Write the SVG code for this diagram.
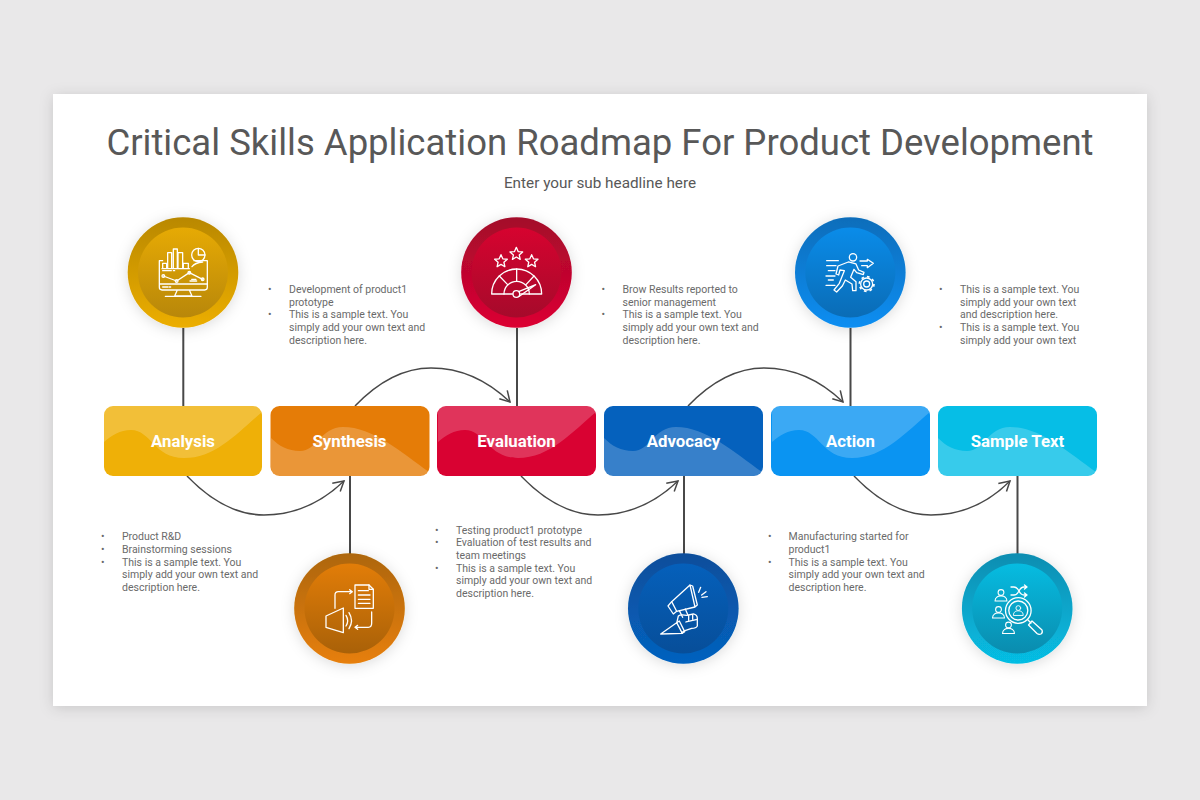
<svg xmlns="http://www.w3.org/2000/svg" width="1200" height="800" viewBox="0 0 1200 800">
<style>
text{font-family:Roboto,"Liberation Sans",sans-serif}
.title{font-size:36.500px;fill:#585858;text-anchor:middle}
.sub{font-size:15.300px;fill:#585858;text-anchor:middle}
.lab{font-size:16.800px;font-weight:700;fill:#fff;text-anchor:middle}
.body{font-size:10.500px;fill:#6a6a6a}
.v{stroke:#484848;stroke-width:2;fill:none}
.c{stroke:#484848;stroke-width:1.5;fill:none;marker-end:url(#arr)}
.ic{fill:none;stroke:#fff;stroke-width:1.3;stroke-linecap:round;stroke-linejoin:round}
.ic3{fill:none;stroke:#fff;stroke-width:3.900;stroke-linecap:round;stroke-linejoin:round}
.w{fill:#fff;fill-opacity:.2}
</style>
<defs>
<filter id="cs" x="-30%" y="-30%" width="160%" height="160%"><feDropShadow dx="0" dy="2" stdDeviation="7" flood-color="#000" flood-opacity=".14"/></filter>
<filter id="ps" x="-5%" y="-5%" width="110%" height="110%"><feDropShadow dx="0" dy="2" stdDeviation="7" flood-color="#000" flood-opacity=".14"/></filter>
<marker id="arr" markerUnits="userSpaceOnUse" markerWidth="18" markerHeight="18" refX="13" refY="8" orient="auto"><path d="M3 1.500L13 8L3 13" fill="none" stroke="#484848" stroke-width="1.500"/></marker>
<linearGradient id="y1" x1="0" y1="0" x2="0" y2="1"><stop offset="0" stop-color="#b98806"/><stop offset="1" stop-color="#ecae05"/></linearGradient>
<linearGradient id="y2" x1="0" y1="0" x2="0" y2="1"><stop offset="0" stop-color="#e6aa04"/><stop offset="1" stop-color="#b8870a"/></linearGradient>
<linearGradient id="r1" x1="0" y1="0" x2="0" y2="1"><stop offset="0" stop-color="#a30a2b"/><stop offset="1" stop-color="#dc0232"/></linearGradient>
<linearGradient id="r2" x1="0" y1="0" x2="0" y2="1"><stop offset="0" stop-color="#d6032f"/><stop offset="1" stop-color="#a60a2b"/></linearGradient>
<linearGradient id="o1" x1="0" y1="0" x2="0" y2="1"><stop offset="0" stop-color="#ad6608"/><stop offset="1" stop-color="#e77f08"/></linearGradient>
<linearGradient id="o2" x1="0" y1="0" x2="0" y2="1"><stop offset="0" stop-color="#e27d08"/><stop offset="1" stop-color="#a96108"/></linearGradient>
<linearGradient id="n1" x1="0" y1="0" x2="0" y2="1"><stop offset="0" stop-color="#0a4e9b"/><stop offset="1" stop-color="#0562bf"/></linearGradient>
<linearGradient id="n2" x1="0" y1="0" x2="0" y2="1"><stop offset="0" stop-color="#0560bb"/><stop offset="1" stop-color="#074e99"/></linearGradient>
<linearGradient id="b1" x1="0" y1="0" x2="0" y2="1"><stop offset="0" stop-color="#0a6dba"/><stop offset="1" stop-color="#0a8ef2"/></linearGradient>
<linearGradient id="b2" x1="0" y1="0" x2="0" y2="1"><stop offset="0" stop-color="#0a8ce9"/><stop offset="1" stop-color="#0a6cb6"/></linearGradient>
<linearGradient id="t1" x1="0" y1="0" x2="0" y2="1"><stop offset="0" stop-color="#0a8db1"/><stop offset="1" stop-color="#06bee4"/></linearGradient>
<linearGradient id="t2" x1="0" y1="0" x2="0" y2="1"><stop offset="0" stop-color="#06bce1"/><stop offset="1" stop-color="#0a8cae"/></linearGradient>
<path id="wa" class="w" d="M0 36C8 29 16 24 27 24C47 24 50 52 80 52C112 52 134 26 158 6V8Q158 0 150 0H8Q0 0 0 8Z"/>
<path id="wb" class="w" d="M0 32C8 40 17 45 29 45C46 45 50 21 72 21C102 21 130 46 158 66V62Q158 70 150 70H8Q0 70 0 62Z"/>
<polygon id="star" points="0,-20 5.400,-7.400 19,-6.200 8.700,2.800 11.700,16.200 0,9.100 -11.700,16.200 -8.700,2.800 -19,-6.200 -5.400,-7.400"/>
<g id="pers"><circle cx="0" cy="-3.500" r="3.400"/><path d="M-7 6.500C-7 1.500-3 .5 0 .5C3 .5 7 1.500 7 6.500Z"/></g>
</defs>
<rect width="1200" height="800" fill="#e9e8e9"/>
<rect id="card" x="53" y="94" width="1094" height="612" fill="#fff" filter="url(#ps)"/>
<text class="title" x="600" y="155">Critical Skills Application Roadmap For Product Development</text>
<text class="sub" x="600" y="188">Enter your sub headline here</text>

<g id="connectors">
<path class="v" d="M183.300 328V406M517 328V406M850.500 328V406M350 476V554M684 476V554M1017.500 476V554"/>
<path class="c" d="M187 476C212 502 238 515 264 515C295 515 322 502 344 481"/>
<path class="c" d="M521 476C546 502 572 515 598 515C629 515 656 502 678 481"/>
<path class="c" d="M854 476C879 502 905 515 931 515C962 515 989 502 1010 481"/>
<path class="c" d="M355 406C380 380 405 368 431 368C462 368 488 381 510 402"/>
<path class="c" d="M688 406C713 380 738 368 764 368C795 368 821 381 843 402"/>
</g>

<g id="box-analysis"><rect x="104" y="406" width="158" height="70" rx="9" fill="#efb007"/><use href="#wa" x="104" y="406"/><text class="lab" x="183" y="447">Analysis</text></g>
<g id="box-synthesis"><rect x="270.500" y="406" width="159" height="70" rx="9" fill="#e57c07"/><use href="#wb" x="271" y="406"/><text class="lab" x="349.500" y="447">Synthesis</text></g>
<g id="box-evaluation"><rect x="437" y="406" width="159" height="70" rx="9" fill="#d90232"/><use href="#wa" x="438" y="406"/><text class="lab" x="516.500" y="447">Evaluation</text></g>
<g id="box-advocacy"><rect x="604" y="406" width="159" height="70" rx="9" fill="#0561bd"/><use href="#wb" x="604" y="406"/><text class="lab" x="683.500" y="447">Advocacy</text></g>
<g id="box-action"><rect x="771" y="406" width="159" height="70" rx="9" fill="#0a94f2"/><use href="#wa" x="772" y="406"/><text class="lab" x="850.500" y="447">Action</text></g>
<g id="box-sample"><rect x="938" y="406" width="159" height="70" rx="9" fill="#06bee6"/><use href="#wb" x="938" y="406"/><text class="lab" x="1017.500" y="447">Sample Text</text></g>

<g id="node-1">
<circle cx="183" cy="272.500" r="55.300" fill="url(#y1)" filter="url(#cs)"/><circle cx="183" cy="272.500" r="45" fill="url(#y2)"/>
<g class="ic3" transform="translate(100 200) scale(.3333)">
<path d="M188 182H178V262Q178 270 186 270H314Q322 270 322 262V182H282M178 252H322M232 270L224 288H276L268 270M196 289H303"/>
<path d="M188 205V190H200V205M203 205V158H215V205M220 205V147H232V205M234 205V158H248V205M250 205V190H265V205M186 206H268"/>
<circle cx="295" cy="165" r="20"/><path d="M295 145V165H315M276 200Q285 188 308 186"/>
<path d="M190 228L230 243L268 218L308 238"/><circle cx="190" cy="228" r="4"/><circle cx="230" cy="243" r="4"/><circle cx="268" cy="218" r="4"/><circle cx="308" cy="238" r="4"/>
<path d="M188 212H214M220 212H224M270 243H290M275 238H288M188 261H204M208 261H212"/>
</g></g>

<g id="node-2">
<circle cx="516.500" cy="272.500" r="55.300" fill="url(#r1)" filter="url(#cs)"/><circle cx="516.500" cy="272.500" r="45" fill="url(#r2)"/>
<g class="ic3" transform="translate(440 200) scale(.3333)">
<use href="#star" x="183" y="184"/><use href="#star" x="229" y="162"/><use href="#star" x="275" y="184"/>
<path d="M218 282H155A75 75 0 0 1 305 282H242"/>
<path d="M192 282A38 38 0 0 1 268 282"/>
<path d="M230 207V244M178 228L203 254M282 228L258 254"/>
<circle cx="229" cy="282" r="10"/><path d="M236 275L287 254L238 289"/>
</g></g>

<g id="node-3">
<circle cx="850.300" cy="272.500" r="55.300" fill="url(#b1)" filter="url(#cs)"/><circle cx="850.300" cy="272.500" r="45" fill="url(#b2)"/>
<g class="ic3" transform="translate(780 200) scale(.3333)">
<circle cx="219" cy="172" r="11"/>
<path d="M205 186L228 192L236 210L252 217L250 224L230 218L222 208L212 232L228 245L228 272L218 272L216 252L196 240L187 258L170 276L162 270L178 250L193 212L180 210L176 225L168 222L174 198Z"/>
<path d="M140 182H175M140 197H168M145 212H165M138 228H165M145 240H160M138 256H165"/>
<path d="M240 183H262V178L280 190L262 203V197H245"/>
<circle cx="260" cy="252" r="9"/><circle cx="260" cy="252" r="18"/><circle cx="260" cy="252" r="22" stroke-width="5" stroke-dasharray="8 9.300" stroke-linecap="butt"/>
</g></g>

<g id="node-4">
<circle cx="349.500" cy="608.500" r="55.300" fill="url(#o1)" filter="url(#cs)"/><circle cx="349.500" cy="608.500" r="45" fill="url(#o2)"/>
<g class="ic3" transform="translate(270 540) scale(.3333)">
<path d="M255 135H297L310 148V205H255Z"/><path d="M297 135V148H310M265 152H295M265 165H300M265 178H300M265 190H300"/>
<path d="M168 228L220 204V278L168 262Z"/><path d="M228 226Q238 242 228 258M237 218Q252 242 237 266"/>
<path d="M195 205V165Q195 155 205 155H247M239 149L247 155L239 161"/>
<path d="M305 216V250Q305 262 295 262H255M263 256L255 262L263 268"/>
</g></g>

<g id="node-5">
<circle cx="683.300" cy="608.500" r="55.300" fill="url(#n1)" filter="url(#cs)"/><circle cx="683.300" cy="608.500" r="45" fill="url(#n2)"/>
<g class="ic3" transform="translate(610 540) scale(.3333)">
<path d="M240 135L248 138L262 195L255 201L240 135ZM240 135L185 185L200 214L255 201"/>
<path d="M185 185L174 198L190 222L200 214"/>
<path d="M208 212L218 232M226 207L234 226"/>
<path d="M200 250L205 228Q212 222 230 226L250 222Q262 225 262 235L262 258Q258 265 245 265L225 272L215 278"/>
<path d="M236 226V240M248 224V238M228 246L262 238"/>
<path d="M152 282L200 248L217 280Z"/><path d="M200 248L208 243L224 275L217 280"/>
<path d="M266 157L272 142M275 165L288 155M276 172L292 170"/>
</g></g>

<g id="node-6">
<circle cx="1017.200" cy="608.500" r="55.300" fill="url(#t1)" filter="url(#cs)"/><circle cx="1017.200" cy="608.500" r="45" fill="url(#t2)"/>
<g class="ic">
<circle cx="1018.300" cy="610.500" r="12.800"/><circle cx="1018.300" cy="610.500" r="9.500"/>
<use href="#pers" transform="translate(1018.300 610.500) scale(.7)"/>
<use href="#pers" transform="translate(1001 595.500) scale(.85)"/><use href="#pers" transform="translate(998.500 612.500) scale(.85)"/><use href="#pers" transform="translate(1008.500 628) scale(.85)"/>
<path d="M1028 620L1031 623M1032 621L1042 630Q1043 633 1041 634Q1039 635 1037 633.500L1028.500 625Z"/>
<path d="M1011 587H1014Q1017 587 1019 591Q1021 595 1024 595H1027M1011 595H1014Q1017 595 1019 591Q1021 587 1024 587H1027M1024.500 585L1027 587L1024.500 589M1024.500 593L1027 595L1024.500 597"/>
</g></g>

<g id="text-1"><text class="body"><tspan x="268" y="293">•</tspan><tspan x="289" y="293">Development of product1</tspan><tspan x="289" y="305.500">prototype</tspan><tspan x="268" y="318">•</tspan><tspan x="289" y="318">This is a sample text. You</tspan><tspan x="289" y="331">simply add your own text and</tspan><tspan x="289" y="343.500">description here.</tspan></text></g>
<g id="text-2"><text class="body"><tspan x="601.500" y="293">•</tspan><tspan x="622.500" y="293">Brow Results reported to</tspan><tspan x="622.500" y="305.500">senior management</tspan><tspan x="601.500" y="318">•</tspan><tspan x="622.500" y="318">This is a sample text. You</tspan><tspan x="622.500" y="331">simply add your own text and</tspan><tspan x="622.500" y="343.500">description here.</tspan></text></g>
<g id="text-3"><text class="body"><tspan x="939" y="293">•</tspan><tspan x="960" y="293">This is a sample text. You</tspan><tspan x="960" y="305.500">simply add your own text</tspan><tspan x="960" y="318">and description here.</tspan><tspan x="939" y="331">•</tspan><tspan x="960" y="331">This is a sample text. You</tspan><tspan x="960" y="343.500">simply add your own text</tspan></text></g>
<g id="text-4"><text class="body"><tspan x="101" y="540">•</tspan><tspan x="122" y="540">Product R&amp;D</tspan><tspan x="101" y="553">•</tspan><tspan x="122" y="553">Brainstorming sessions</tspan><tspan x="101" y="565.500">•</tspan><tspan x="122" y="565.500">This is a sample text. You</tspan><tspan x="122" y="578">simply add your own text and</tspan><tspan x="122" y="591">description here.</tspan></text></g>
<g id="text-5"><text class="body"><tspan x="435" y="534">•</tspan><tspan x="456" y="534">Testing product1 prototype</tspan><tspan x="435" y="546">•</tspan><tspan x="456" y="546">Evaluation of test results and</tspan><tspan x="456" y="559">team meetings</tspan><tspan x="435" y="571.500">•</tspan><tspan x="456" y="571.500">This is a sample text. You</tspan><tspan x="456" y="584">simply add your own text and</tspan><tspan x="456" y="597">description here.</tspan></text></g>
<g id="text-6"><text class="body"><tspan x="768" y="540">•</tspan><tspan x="788.500" y="540">Manufacturing started for</tspan><tspan x="788.500" y="553">product1</tspan><tspan x="768" y="565.500">•</tspan><tspan x="788.500" y="565.500">This is a sample text. You</tspan><tspan x="788.500" y="578">simply add your own text and</tspan><tspan x="788.500" y="591">description here.</tspan></text></g>
</svg>
